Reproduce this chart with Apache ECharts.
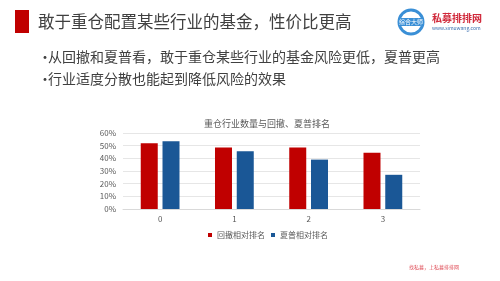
<!DOCTYPE html>
<html><head><meta charset="utf-8">
<script src="https://cdn.jsdelivr.net/npm/echarts@6/dist/echarts.min.js"></script>
<style>html,body{margin:0;padding:0;background:#fff}#c{width:500px;height:281px}</style>
</head><body><div id="c"></div>
<script>
const categories = ['0', '1', '2', '3'];
const drawdownRank = [52, 48.5, 48.5, 44.5];
const sharpeRank = [53.5, 45.5, 39, 27];
const seriesNames = ['回撤相对排名', '夏普相对排名'];
const chartTitle = '重仓行业数量与回撤、夏普排名';
const slideTitle = '敢于重仓配置某些行业的基金，性价比更高';
const bullets = ['从回撤和夏普看，敢于重仓某些行业的基金风险更低，夏普更高', '行业适度分散也能起到降低风险的效果'];

const font = '"Noto Sans CJK SC", "Microsoft YaHei", sans-serif';
const chart = echarts.init(document.getElementById('c'));
chart.setOption({
  animation: false,
  backgroundColor: '#fff',
  title: {
    text: chartTitle, left: 262, top: 114, textAlign: 'center',
    textStyle: { fontSize: 9, fontWeight: 'normal', color: '#595959', fontFamily: font }
  },
  legend: {
    data: seriesNames, top: 226, itemWidth: 4, itemHeight: 4, icon: 'rect',
    itemGap: 6, left: 203,
    textStyle: { fontSize: 8, color: '#595959', fontFamily: font }
  },
  grid: { left: 123, right: 80, top: 133, bottom: 72 },
  xAxis: {
    type: 'category', data: categories,
    axisLine: { lineStyle: { color: '#d9d9d9' } }, axisTick: { show: false },
    axisLabel: { fontSize: 8, color: '#595959', margin: 6, fontFamily: font }
  },
  yAxis: {
    type: 'value', min: 0, max: 60, interval: 10,
    axisLabel: { formatter: '{value}%', fontSize: 8, color: '#595959', margin: 7, fontFamily: font },
    axisLine: { show: false }, axisTick: { show: false },
    splitLine: { lineStyle: { color: '#e6e6e6' } }
  },
  series: [
    { name: seriesNames[0], type: 'bar', data: drawdownRank, barWidth: 17, barGap: '28%', itemStyle: { color: '#C00000' } },
    { name: seriesNames[1], type: 'bar', data: sharpeRank, barWidth: 17, itemStyle: { color: '#1A5796' } }
  ],
  graphic: [
    { type: 'rect', shape: { x: 15, y: 10, width: 14, height: 23 }, style: { fill: '#C00000' } },
    { type: 'text', x: 38, y: 22, style: { text: slideTitle, font: '16.5px ' + font, fill: '#404040', textVerticalAlign: 'middle' } },
    { type: 'text', x: 38, y: 57, style: { text: '•', font: '14px ' + font, fill: '#404040', textVerticalAlign: 'middle' } },
    { type: 'text', x: 48, y: 57, style: { text: bullets[0], font: '14px ' + font, fill: '#404040', textVerticalAlign: 'middle' } },
    { type: 'text', x: 38, y: 79, style: { text: '•', font: '14px ' + font, fill: '#404040', textVerticalAlign: 'middle' } },
    { type: 'text', x: 48, y: 79, style: { text: bullets[1], font: '14px ' + font, fill: '#404040', textVerticalAlign: 'middle' } },
    { type: 'circle', shape: { cx: 411, cy: 22, r: 12 }, style: { fill: '#fff', stroke: '#3a8fd6', lineWidth: 3 } },
    { type: 'rect', shape: { x: 399, y: 18, width: 25, height: 8 }, style: { fill: '#3a8fd6' } },
    { type: 'text', x: 411, y: 22, style: { text: '综合大师', font: '6px ' + font, fill: '#fff', textAlign: 'center', textVerticalAlign: 'middle' } },
    { type: 'text', x: 432, y: 18, style: { text: '私募排排网', font: 'bold 10px ' + font, fill: '#d0283a', textVerticalAlign: 'middle' } },
    { type: 'text', x: 432, y: 28, style: { text: 'www.simuwang.com', font: '5px ' + font, fill: '#3a6fb0', textVerticalAlign: 'middle' } },
    { type: 'text', x: 434, y: 267, style: { text: '找私募，上私募排排网', font: '5px ' + font, fill: '#e0505a', textAlign: 'center', textVerticalAlign: 'middle' } }
  ]
});
</script></body></html>
